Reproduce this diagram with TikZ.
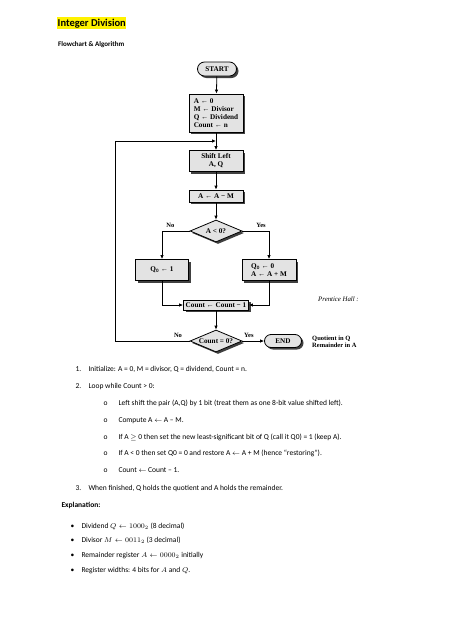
\documentclass[tikz,border=0pt]{standalone}
\usepackage{fontspec}
\setmainfont{Carlito}
\newfontfamily\chartfont{Liberation Serif}
\usetikzlibrary{positioning,shapes.geometric,shapes.misc,shadows,arrows.meta}

\tikzset{
  box/.style={draw,line width=0.8pt,fill=gray!22,inner sep=1.5pt,align=center,
    font=\chartfont\bfseries\fontsize{7.2}{8}\selectfont,
    drop shadow={shadow xshift=2pt,shadow yshift=-2pt,fill=black!75,opacity=1}},
  term/.style={box,rounded rectangle,minimum width=42pt,minimum height=14pt},
  test/.style={box,diamond,aspect=2.5,minimum width=52pt,minimum height=22pt,inner sep=0.3pt},
  flow/.style={line width=0.8pt,-{Latex[length=4pt,width=3.5pt]}},
  lbl/.style={font=\chartfont\bfseries\fontsize{6.5}{7.5}\selectfont},
  body/.style={anchor=base west,font=\fontsize{7.5}{9}\selectfont},
}

\begin{document}
\begin{tikzpicture}[x=1pt,y=-1pt]
  \useasboundingbox (0,0) rectangle (474,632);
  % heading
  \node[anchor=base west,fill=yellow,inner xsep=0.5pt,inner ysep=1.5pt,
    font=\bfseries\fontsize{10.5}{12}\selectfont] (title) at (57,26) {Integer Division};
  \node[anchor=base west,inner sep=0pt,font=\bfseries\fontsize{7}{8}\selectfont]
    (subtitle) at (58,46) {Flowchart \& Algorithm};

  % flowchart
  \node[term] (start) at (217,69) {START};
  \node[box,minimum width=54pt,minimum height=38pt,align=left] (init) at (216,113)
    {A ← 0\\M ← Divisor\\Q ← Dividend\\Count ← n};
  \coordinate (merge) at (216,141);
  \coordinate (back) at (115,141);
  \node[box,minimum width=54pt,minimum height=21pt] (shift) at (216,161) {Shift Left\\A, Q};
  \node[box,minimum width=54pt,minimum height=12pt] (sub) at (216,196) {A ← A − M};
  \node[test] (sign) at (216,231) {A {\textless} 0?};
  \node[box,minimum width=53pt,minimum height=21pt] (setone) at (162,270) {Q$_{\mathbf 0}$ ← 1};
  \node[box,minimum width=54pt,minimum height=21pt,align=left] (restore) at (269,270)
    {Q$_{\mathbf 0}$ ← 0\\A ← A + M};
  \node[box,minimum width=65pt,minimum height=10pt,inner ysep=0.5pt] (dec) at (216,305)
    {Count ← Count − 1};
  \node[test] (check) at (216,341) {Count = 0?};
  \node[term,minimum width=40pt,minimum height=13pt] (finish) at (283,341) {END};
  \node[anchor=west,align=left,inner sep=0pt,
    font=\chartfont\bfseries\fontsize{6.5}{7.5}\selectfont] (result) at (312,342)
    {Quotient in Q\\Remainder in A};
  \node[anchor=west,inner sep=0pt,font=\chartfont\itshape\fontsize{6.8}{8}\selectfont]
    (credit) at (318,299) {Prentice Hall :};

  \draw[flow] (start) -- (init);
  \draw[flow] (init) -- (shift);
  \draw[flow] (shift) -- (sub);
  \draw[flow] (sub) -- (sign);
  \draw[flow] (sign.west) -| node[lbl,pos=0.35,above] (no1) {No} (setone.north);
  \draw[flow] (sign.east) -| node[lbl,pos=0.35,above] (yes1) {Yes} (restore.north);
  \draw[flow] (setone.south) |- (dec.west);
  \draw[flow] (restore.south) |- (dec.east);
  \draw[flow] (dec) -- (check);
  \draw[flow] (check.east) -- node[lbl,pos=0.3,above] (yes2) {Yes} (finish.west);
  \draw[flow] (check.west) -| (back) -- (merge);
  \node[lbl,above] (no2) at (178,341) {No};

  % algorithm
  \node[body] (n1) at (72,371) {1.};
  \node[body] (s1) at (85,371) {Initialize: A = 0, M = divisor, Q = dividend, Count = n.};
  \node[body] (n2) at (72,388) {2.};
  \node[body] (s2) at (85,388) {Loop while Count {\textgreater} 0:};
  \foreach \yy/\txt [count=\i] in {
      405/{Left shift the pair (A,Q) by 1 bit (treat them as one 8-bit value shifted left).},
      422/{Compute A $\leftarrow$ A – M.},
      439/{If A $\geq$ 0 then set the new least-significant bit of Q (call it Q0) = 1 (keep A).},
      455/{If A {\textless} 0 then set Q0 = 0 and restore A $\leftarrow$ A + M (hence “restoring”).},
      472/{Count $\leftarrow$ Count – 1.}} {
    \node[body] (o\i) at (100,\yy) {o};
    \node[body] (t\i) at (115,\yy) {\txt};
  }
  \node[body] (n3) at (72,490) {3.};
  \node[body] (s3) at (85,490) {When finished, Q holds the quotient and A holds the remainder.};

  % explanation
  \node[body,font=\bfseries\fontsize{7.5}{9}\selectfont] (expl) at (58,507) {Explanation:};
  \foreach \yy/\txt [count=\i] in {
      528/{Dividend $Q \leftarrow 1000_2$ (8 decimal)},
      542/{Divisor $M \leftarrow 0011_2$ (3 decimal)},
      557/{Remainder register $A \leftarrow 0000_2$ initially},
      572/{Register widths: 4 bits for $A$ and $Q$.}} {
    \node[body] (b\i) at (67,\yy) {•};
    \node[body] (e\i) at (78,\yy) {\txt};
  }
\end{tikzpicture}
\end{document}
